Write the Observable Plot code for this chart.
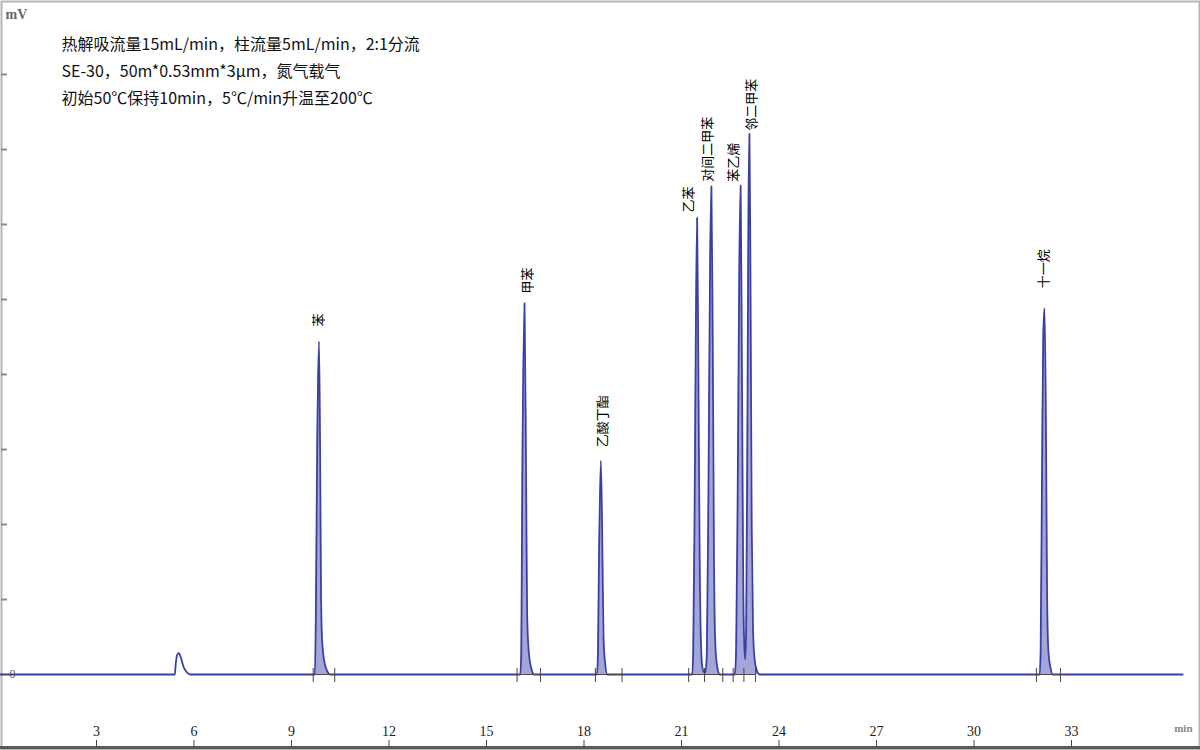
<!DOCTYPE html>
<html>
<head>
<meta charset="utf-8">
<script src="https://cdn.jsdelivr.net/npm/d3@7"></script>
<script src="https://cdn.jsdelivr.net/npm/@observablehq/plot@0.6"></script>
<style>
  html, body { margin: 0; padding: 0; background: #fff; }
  #chart svg { display: block; }
</style>
</head>
<body>
<div id="chart"></div>
<script>
// ---- data (time in min, signal in mV) ----
const notes = [
  "热解吸流量15mL/min，柱流量5mL/min，2:1分流",
  "SE-30，50m*0.53mm*3μm，氮气载气",
  "初始50℃保持10min，5℃/min升温至200℃"
];

const xTicks = [3, 6, 9, 12, 15, 18, 21, 24, 27, 30, 33];
const yTicks = [10, 20, 30, 40, 50, 60, 70, 80];

// peak names and label anchor positions (time, mV)
const peakNames = ["苯", "甲苯", "乙酸丁酯", "乙苯", "对间二甲苯", "苯乙烯", "邻二甲苯", "十一烷"];
const peakLabelTime = [9.83, 16.26, 18.59, 21.22, 21.80, 22.60, 23.17, 32.14];
const peakLabelMv = [46.4, 50.8, 30.3, 61.6, 65.7, 65.7, 72.5, 51.5];

// integration marks (time, min)
const integTicks = [9.668, 10.33, 15.94, 16.66, 18.35, 19.17, 21.22, 21.71, 22.27, 22.59, 22.92, 23.28, 31.92, 32.66];
const integStart = [9.668, 15.94, 18.35, 21.22, 21.71, 22.59, 22.92, 31.92];
const integEnd   = [10.33, 16.66, 19.17, 21.71, 22.27, 22.92, 23.28, 32.66];

// detector trace
const traceTime = [
  0,
  5.41, 5.44, 5.48, 5.53, 5.60, 5.68, 5.78, 5.88,
  9.72, 9.75, 9.79, 9.846, 9.88, 9.91, 9.95, 10.05, 10.20,
  16.04, 16.07, 16.10, 16.17, 16.22, 16.25, 16.30, 16.38, 16.46,
  18.40, 18.43, 18.46, 18.52, 18.57, 18.60, 18.65, 18.72,
  21.33, 21.36, 21.40, 21.44, 21.48, 21.52, 21.56, 21.60, 21.64, 21.70,
  21.74, 21.78, 21.83, 21.88, 21.92, 21.96, 22.00, 22.04, 22.10, 22.18,
  22.64, 22.68, 22.73, 22.78, 22.82, 22.86, 22.90, 22.93, 22.96,
  22.99, 23.03, 23.06, 23.09, 23.12, 23.16, 23.20, 23.25, 23.32, 23.40,
  32.02, 32.05, 32.09, 32.13, 32.17, 32.21, 32.25, 32.29, 32.35, 32.42,
  36.42
];
const traceMv = [
  0,
  0, 1.5, 2.6, 2.84, 2.2, 1.0, 0.3, 0,
  0, 8, 30, 44.4, 30, 10, 4, 1, 0,
  0, 3, 25, 49.5, 25, 8, 3, 0.8, 0,
  0, 3, 15, 28.5, 15, 5, 1.5, 0,
  0, 3, 20, 45, 60.9, 40, 15, 4, 1, 0.3,
  0.3, 3, 25, 55, 65.1, 45, 15, 4, 1, 0,
  0, 3, 25, 55, 65.2, 40, 12, 4, 2,
  6, 35, 62, 72.1, 55, 20, 6, 2, 0.5, 0,
  0, 3, 25, 45, 48.8, 35, 10, 3, 1, 0,
  0
];

// ---- tables built from the arrays ----
const trace = traceTime.map((t, i) => ({t, v: traceMv[i]}));
const labels = peakNames.map((name, i) => ({name, t: peakLabelTime[i], v: peakLabelMv[i]}));
const integ = integStart.map((a, i) => ({a, b: integEnd[i]}));
const integrated = trace.filter(d => d.t > integStart[0] - 0.5);

// scale set-up: 32.5 px per minute, 7.5 px per mV, baseline at y=674
const W = 1200, H = 750;
const xDomain = [1.5 / 32.5, (W + 1.5) / 32.5];
const yDomain = [(674 - H) / 7.5, 674 / 7.5];
const pxX = 1 / 32.5, pxY = 1 / 7.5;
const yAxisBottom = (674 - 747) / 7.5;

const chart = Plot.plot({
  width: W,
  height: H,
  marginTop: 0, marginRight: 0, marginBottom: 0, marginLeft: 0,
  x: {domain: xDomain, axis: null},
  y: {domain: yDomain, axis: null},
  style: {background: "#fff", overflow: "visible"},
  marks: [
    Plot.frame({stroke: "#b4b4b4", strokeWidth: 2, inset: 1}),
    // bottom axis line
    Plot.ruleY([yAxisBottom], {stroke: "#5a5a5a", strokeWidth: 3}),
    // left axis ticks
    Plot.ruleY(yTicks, {y: d => d, x1: xDomain[0] + 1 * pxX, x2: xDomain[0] + 7 * pxX, stroke: "#8a8a8a", strokeWidth: 2}),
    // bottom axis ticks + labels
    Plot.ruleX(xTicks, {x: d => d, y1: yAxisBottom, y2: yAxisBottom + 7 * pxY, stroke: "#444", strokeWidth: 1}),
    Plot.text(xTicks, {x: d => d, y: yAxisBottom + 16 * pxY, text: d => String(d), fontFamily: "Liberation Serif", fontSize: 14, fill: "#222"}),
    // trace
    Plot.areaY(integrated, {x: "t", y: "v", fill: "#9497d3", fillOpacity: 0.85, curve: "monotone-x"}),
    Plot.lineY(trace, {x: "t", y: "v", stroke: "#3b3fa3", strokeWidth: 1.8, curve: "monotone-x"}),
    // integration baselines and marks
    Plot.ruleY(integ, {x1: "a", x2: "b", y: 0, stroke: "#4a4a4a", strokeWidth: 1}),
    Plot.ruleX(integTicks, {x: d => d, y1: -1.07, y2: 0.8, stroke: "#444", strokeWidth: 1}),
    // peak labels
    Plot.text(labels, {x: "t", y: "v", text: "name", rotate: -90, textAnchor: "start", lineAnchor: "middle",
      fontFamily: "Noto Sans CJK SC", fontSize: 13, fill: "#000"}),
    // axis unit labels
    Plot.text(["mV"], {frameAnchor: "top-left", dx: 5, dy: 14, textAnchor: "start", lineAnchor: "middle",
      fontFamily: "Liberation Serif", fontSize: 14, fill: "#666", fontWeight: "bold"}),
    Plot.text(["min"], {frameAnchor: "bottom-right", dx: -8, dy: -22, textAnchor: "end", lineAnchor: "middle",
      fontFamily: "Liberation Serif", fontSize: 11, fill: "#888", fontWeight: "bold"}),
    Plot.text(["0"], {x: 13.5 * pxX, y: 0, text: d => d, fontFamily: "Liberation Serif", fontSize: 12, fill: "#555"}),
    // method notes
    Plot.text([notes.join("\n")], {frameAnchor: "top-left", dx: 61, dy: 30, textAnchor: "start", lineAnchor: "top",
      lineHeight: 1.6875, fontFamily: "Noto Sans CJK SC", fontSize: 16, fill: "#111"})
  ]
});
document.getElementById("chart").append(chart);
</script>
</body>
</html>
